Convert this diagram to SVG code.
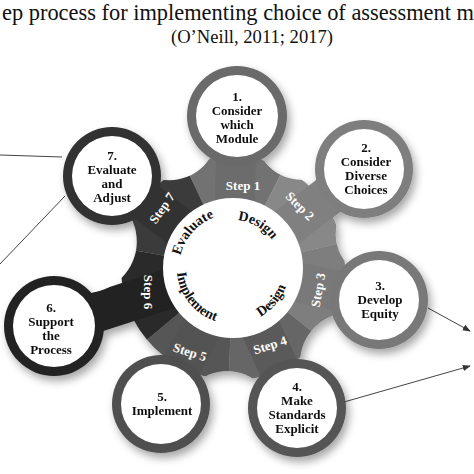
<svg xmlns="http://www.w3.org/2000/svg" width="474" height="474" viewBox="0 0 474 474">
<defs>
<style>
.title{font-family:"Liberation Serif","Times New Roman",serif;fill:#111}
.nt{font-family:"Liberation Serif","Times New Roman",serif;font-weight:bold;font-size:13px;fill:#111;text-anchor:middle}
.st{font-family:"Liberation Serif","Times New Roman",serif;font-weight:bold;font-size:13px;fill:#fff;text-anchor:middle}
.it{font-family:"Liberation Serif","Times New Roman",serif;font-weight:bold;font-size:14px;fill:#111;text-anchor:middle}
.inner{fill:#fff}
.ln{stroke:#444;stroke-width:1;fill:none}
</style>
<filter id="sh" x="-20%" y="-20%" width="140%" height="140%">
<feDropShadow dx="3" dy="5" stdDeviation="4" flood-color="#000" flood-opacity="0.35"/>
</filter>
<marker id="ah" viewBox="0 0 10 10" refX="9" refY="5" markerWidth="8" markerHeight="8" orient="auto" markerUnits="userSpaceOnUse">
<path d="M0,1 L10,5 L0,9 Z" fill="#333"/>
</marker>
<mask id="cuts" maskUnits="userSpaceOnUse" x="0" y="0" width="474" height="474">
<rect x="0" y="0" width="474" height="474" fill="#fff"/>
<circle cx="169.4" cy="132.2" r="48" fill="#000"/>
<circle cx="301.1" cy="134.3" r="45.5" fill="#000"/>
<circle cx="379.2" cy="234.2" r="43.6" fill="#000"/>
<circle cx="349.7" cy="362.2" r="49.6" fill="#000"/>
<circle cx="227.2" cy="417.9" r="46.9" fill="#000"/>
<circle cx="85.4" cy="241.4" r="51.4" fill="#000"/>
</mask>
<path id="cw1" d="M179,268 A54,54 0 1 1 287,268 A54,54 0 1 1 179,268"/>
<path id="cw2" d="M185,268 A48,48 0 1 1 281,268 A48,48 0 1 1 185,268"/>
<path id="ccw" d="M177,268 A56,56 0 1 0 289,268 A56,56 0 1 0 177,268"/>
</defs>
<rect width="474" height="474" fill="#fff"/>
<text class="title" x="2" y="20" font-size="22.4">ep process for implementing choice of assessment m</text>
<text class="title" x="252" y="43" font-size="18.6" text-anchor="middle">(O’Neill, 2011; 2017)</text>

<g id="connectors">
<line class="ln" x1="0" y1="155" x2="62" y2="157"/>
<line class="ln" x1="65" y1="196" x2="0" y2="264"/>
<line class="ln" x1="428" y1="308" x2="470" y2="331" marker-end="url(#ah)"/>
<line class="ln" x1="344" y1="402" x2="470" y2="366" marker-end="url(#ah)"/>
</g>

<g id="wheel" filter="url(#sh)">
<g id="ring" mask="url(#cuts)">
<path d="M233,268 L185.5,166.6 A112,112 0 0 1 283.8,168.2 Z" fill="#727272"/>
<path d="M233,268 L283.8,168.2 A112,112 0 0 1 342.1,242.8 Z" fill="#888"/>
<path d="M233,268 L342.1,242.8 A112,112 0 0 1 320.2,338.3 Z" fill="#7e7e7e"/>
<path d="M233,268 L320.2,338.3 A112,112 0 0 1 228.7,379.9 Z" fill="#666"/>
<path d="M233,268 L228.7,379.9 A112,112 0 0 1 147,339.7 Z" fill="#575757"/>
<path d="M233,268 L147,339.7 A112,112 0 0 1 122.8,248.2 Z" fill="#2a2a2a"/>
<path d="M233,268 L122.8,248.2 A112,112 0 0 1 185.5,166.6 Z" fill="#3a3a3a"/>
<g stroke-width="40">
<line x1="233" y1="268" x2="237" y2="118" stroke="#6c6c6c"/>
<line x1="233" y1="268" x2="364" y2="169" stroke="#808080"/>
<line x1="233" y1="268" x2="379" y2="300" stroke="#797979"/>
<line x1="233" y1="268" x2="297" y2="408" stroke="#5a5a5a"/>
<line x1="233" y1="268" x2="161" y2="404" stroke="#525252"/>
<line x1="233" y1="268" x2="54" y2="326" stroke="#242424"/>
<line x1="233" y1="268" x2="112" y2="176" stroke="#333"/>
</g>
</g>
<circle class="inner" cx="233" cy="268" r="70"/>

<g id="node1"><circle cx="237" cy="116" r="50" fill="#6a6a6a"/><circle cx="237" cy="116" r="41" fill="#fff"/>
<text class="nt" x="237" y="101">1.</text><text class="nt" x="237" y="115">Consider</text><text class="nt" x="237" y="129">which</text><text class="nt" x="237" y="143">Module</text></g>
<g id="node2"><circle cx="364" cy="169" r="49" fill="#7e7e7e"/><circle cx="364" cy="169" r="40" fill="#fff"/>
<text class="nt" x="366" y="152">2.</text><text class="nt" x="366" y="166">Consider</text><text class="nt" x="366" y="180">Diverse</text><text class="nt" x="366" y="194">Choices</text></g>
<g id="node3"><circle cx="379" cy="300" r="49" fill="#787878"/><circle cx="379" cy="300" r="40" fill="#fff"/>
<text class="nt" x="380" y="290">3.</text><text class="nt" x="380" y="304">Develop</text><text class="nt" x="380" y="318">Equity</text></g>
<g id="node4"><circle cx="297" cy="408" r="49" fill="#555"/><circle cx="297" cy="408" r="40" fill="#fff"/>
<text class="nt" x="297" y="391">4.</text><text class="nt" x="297" y="405">Make</text><text class="nt" x="297" y="419">Standards</text><text class="nt" x="297" y="433">Explicit</text></g>
<g id="node5"><circle cx="161" cy="404" r="49" fill="#505050"/><circle cx="161" cy="404" r="40" fill="#fff"/>
<text class="nt" x="162" y="401">5.</text><text class="nt" x="162" y="415">Implement</text></g>
<g id="node6"><circle cx="54" cy="326" r="50" fill="#222"/><circle cx="54" cy="326" r="41" fill="#fff"/>
<text class="nt" x="51" y="312">6.</text><text class="nt" x="51" y="326">Support</text><text class="nt" x="51" y="340">the</text><text class="nt" x="51" y="354">Process</text></g>
<g id="node7"><circle cx="112" cy="176" r="49" fill="#303030"/><circle cx="112" cy="176" r="40" fill="#fff"/>
<text class="nt" x="112" y="160">7.</text><text class="nt" x="112" y="174">Evaluate</text><text class="nt" x="112" y="188">and</text><text class="nt" x="112" y="202">Adjust</text></g>
</g>

<g id="steps">
<text class="st" x="243" y="190">Step 1</text>
<text class="st" transform="translate(300,206) rotate(45)" y="4.5">Step 2</text>
<text class="st" transform="translate(318,290) rotate(-80)" y="4.5">Step 3</text>
<text class="st" transform="translate(270,345) rotate(-18)" y="4.5">Step 4</text>
<text class="st" transform="translate(190,352) rotate(18)" y="4.5">Step 5</text>
<text class="st" transform="translate(148,292) rotate(90)" y="4.5">Step 6</text>
<text class="st" transform="translate(162,208) rotate(-55)" y="4.5">Step 7</text>
</g>

<g id="phases">
<text class="it"><textPath href="#cw1" startOffset="11.5%">Evaluate</textPath></text>
<text class="it"><textPath href="#cw2" startOffset="33.3%">Design</textPath></text>
<text class="it"><textPath href="#ccw" startOffset="10.6%">Implement</textPath></text>
<text class="it"><textPath href="#ccw" startOffset="38.9%">Design</textPath></text>
</g>
</svg>
